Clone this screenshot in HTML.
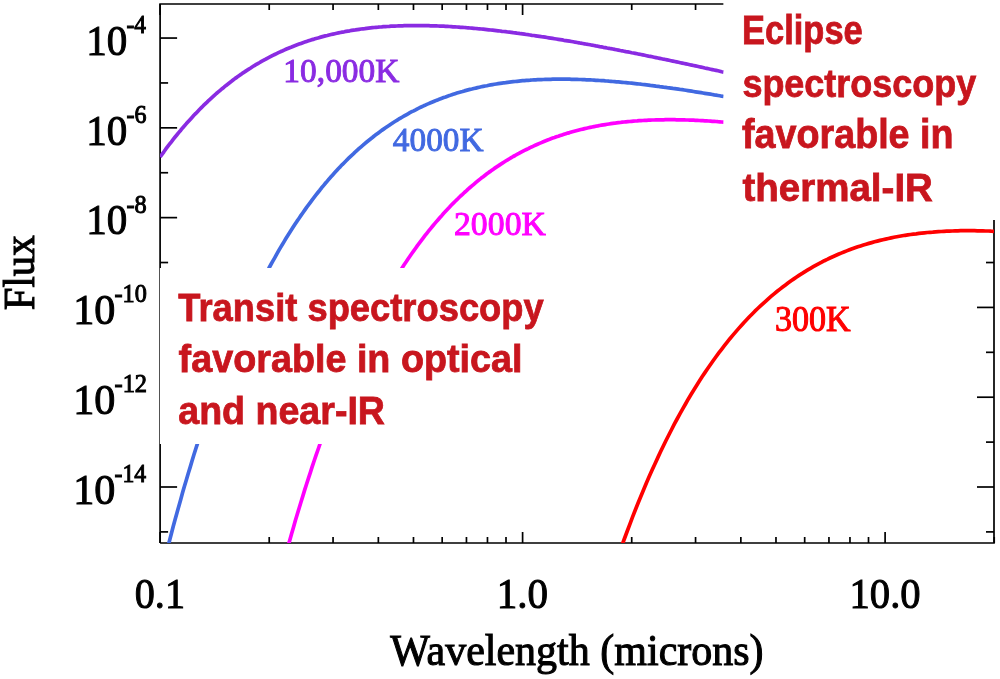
<!DOCTYPE html>
<html><head><meta charset="utf-8"><style>
html,body{margin:0;padding:0;background:#fff;}
body{width:1000px;height:679px;overflow:hidden;}
svg{display:block;}
</style></head><body>
<svg width="1000" height="679" viewBox="0 0 1000 679">
<rect width="1000" height="679" fill="#fff"/>
<defs><clipPath id="pc"><rect x="160.1" y="4" width="833.9" height="539"/></clipPath></defs>
<g stroke="#000" stroke-width="1.7" fill="none"><path d="M160.1,543 V4 H723.6"/><path d="M160.1,543 H994 V220"/><path d="M160.10,543 v-11"/><path d="M160.10,4 v11"/><path d="M269.22,543 v-6"/><path d="M269.22,4 v6"/><path d="M333.06,543 v-6"/><path d="M333.06,4 v6"/><path d="M378.35,543 v-6"/><path d="M378.35,4 v6"/><path d="M413.48,543 v-6"/><path d="M413.48,4 v6"/><path d="M442.18,543 v-6"/><path d="M442.18,4 v6"/><path d="M466.45,543 v-6"/><path d="M466.45,4 v6"/><path d="M487.47,543 v-6"/><path d="M487.47,4 v6"/><path d="M506.01,543 v-6"/><path d="M506.01,4 v6"/><path d="M522.60,543 v-11"/><path d="M522.60,4 v11"/><path d="M631.72,543 v-6"/><path d="M631.72,4 v6"/><path d="M695.56,543 v-6"/><path d="M695.56,4 v6"/><path d="M740.85,543 v-6"/><path d="M775.98,543 v-6"/><path d="M804.68,543 v-6"/><path d="M828.95,543 v-6"/><path d="M849.97,543 v-6"/><path d="M868.51,543 v-6"/><path d="M885.10,543 v-11"/><path d="M994.22,543 v-6"/><path d="M160.1,531.89 h8"/><path d="M994,531.89 h-8"/><path d="M160.1,487.00 h17"/><path d="M994,487.00 h-17"/><path d="M994,442.11 h-8"/><path d="M994,397.21 h-17"/><path d="M994,352.32 h-8"/><path d="M994,307.42 h-17"/><path d="M160.1,262.53 h8"/><path d="M994,262.53 h-8"/><path d="M160.1,217.63 h17"/><path d="M160.1,172.74 h8"/><path d="M160.1,127.84 h17"/><path d="M160.1,82.94 h8"/><path d="M160.1,38.05 h17"/></g>
<g clip-path="url(#pc)" fill="none" stroke-width="3.7" stroke-linejoin="round">
<path d="M160.1,157.0 L162.0,154.4 L163.9,151.8 L165.7,149.2 L167.6,146.7 L169.5,144.2 L171.4,141.8 L173.2,139.4 L175.1,137.0 L177.0,134.7 L178.9,132.4 L180.8,130.2 L182.6,127.9 L184.5,125.8 L186.4,123.6 L188.3,121.5 L190.2,119.4 L192.0,117.4 L193.9,115.3 L195.8,113.4 L197.7,111.4 L199.5,109.5 L201.4,107.6 L203.3,105.7 L205.2,103.9 L207.1,102.1 L208.9,100.3 L210.8,98.6 L212.7,96.9 L214.6,95.2 L216.4,93.5 L218.3,91.9 L220.2,90.3 L222.1,88.7 L224.0,87.2 L225.8,85.7 L227.7,84.2 L229.6,82.7 L231.5,81.3 L233.4,79.8 L235.2,78.4 L237.1,77.1 L239.0,75.7 L240.9,74.4 L242.7,73.1 L244.6,71.9 L246.5,70.6 L248.4,69.4 L250.3,68.2 L252.1,67.0 L254.0,65.8 L255.9,64.7 L257.8,63.6 L259.7,62.5 L261.5,61.4 L263.4,60.4 L265.3,59.4 L267.2,58.3 L269.0,57.4 L270.9,56.4 L272.8,55.4 L274.7,54.5 L276.6,53.6 L278.4,52.7 L280.3,51.8 L282.2,51.0 L284.1,50.1 L285.9,49.3 L287.8,48.5 L289.7,47.7 L291.6,47.0 L293.5,46.2 L295.3,45.5 L297.2,44.8 L299.1,44.1 L301.0,43.4 L302.9,42.7 L304.7,42.1 L306.6,41.4 L308.5,40.8 L310.4,40.2 L312.2,39.6 L314.1,39.1 L316.0,38.5 L317.9,38.0 L319.8,37.4 L321.6,36.9 L323.5,36.4 L325.4,35.9 L327.3,35.5 L329.1,35.0 L331.0,34.5 L332.9,34.1 L334.8,33.7 L336.7,33.3 L338.5,32.9 L340.4,32.5 L342.3,32.1 L344.2,31.8 L346.1,31.4 L347.9,31.1 L349.8,30.8 L351.7,30.4 L353.6,30.1 L355.4,29.9 L357.3,29.6 L359.2,29.3 L361.1,29.0 L363.0,28.8 L364.8,28.6 L366.7,28.3 L368.6,28.1 L370.5,27.9 L372.4,27.7 L374.2,27.5 L376.1,27.3 L378.0,27.2 L379.9,27.0 L381.7,26.9 L383.6,26.7 L385.5,26.6 L387.4,26.5 L389.3,26.4 L391.1,26.2 L393.0,26.1 L394.9,26.1 L396.8,26.0 L398.6,25.9 L400.5,25.8 L402.4,25.8 L404.3,25.7 L406.2,25.7 L408.0,25.6 L409.9,25.6 L411.8,25.6 L413.7,25.6 L415.6,25.6 L417.4,25.6 L419.3,25.6 L421.2,25.6 L423.1,25.6 L424.9,25.6 L426.8,25.7 L428.7,25.7 L430.6,25.8 L432.5,25.8 L434.3,25.9 L436.2,25.9 L438.1,26.0 L440.0,26.1 L441.9,26.2 L443.7,26.2 L445.6,26.3 L447.5,26.4 L449.4,26.5 L451.2,26.6 L453.1,26.8 L455.0,26.9 L456.9,27.0 L458.8,27.1 L460.6,27.3 L462.5,27.4 L464.4,27.5 L466.3,27.7 L468.1,27.8 L470.0,28.0 L471.9,28.1 L473.8,28.3 L475.7,28.5 L477.5,28.7 L479.4,28.8 L481.3,29.0 L483.2,29.2 L485.1,29.4 L486.9,29.6 L488.8,29.8 L490.7,30.0 L492.6,30.2 L494.4,30.4 L496.3,30.6 L498.2,30.8 L500.1,31.0 L502.0,31.3 L503.8,31.5 L505.7,31.7 L507.6,32.0 L509.5,32.2 L511.3,32.4 L513.2,32.7 L515.1,32.9 L517.0,33.2 L518.9,33.4 L520.7,33.7 L522.6,33.9 L524.5,34.2 L526.4,34.5 L528.3,34.7 L530.1,35.0 L532.0,35.3 L533.9,35.5 L535.8,35.8 L537.6,36.1 L539.5,36.4 L541.4,36.7 L543.3,36.9 L545.2,37.2 L547.0,37.5 L548.9,37.8 L550.8,38.1 L552.7,38.4 L554.5,38.7 L556.4,39.0 L558.3,39.3 L560.2,39.6 L562.1,39.9 L563.9,40.3 L565.8,40.6 L567.7,40.9 L569.6,41.2 L571.5,41.5 L573.3,41.8 L575.2,42.2 L577.1,42.5 L579.0,42.8 L580.8,43.2 L582.7,43.5 L584.6,43.8 L586.5,44.2 L588.4,44.5 L590.2,44.8 L592.1,45.2 L594.0,45.5 L595.9,45.9 L597.8,46.2 L599.6,46.6 L601.5,46.9 L603.4,47.3 L605.3,47.6 L607.1,48.0 L609.0,48.3 L610.9,48.7 L612.8,49.0 L614.7,49.4 L616.5,49.7 L618.4,50.1 L620.3,50.5 L622.2,50.8 L624.0,51.2 L625.9,51.6 L627.8,51.9 L629.7,52.3 L631.6,52.7 L633.4,53.0 L635.3,53.4 L637.2,53.8 L639.1,54.2 L641.0,54.5 L642.8,54.9 L644.7,55.3 L646.6,55.7 L648.5,56.1 L650.3,56.4 L652.2,56.8 L654.1,57.2 L656.0,57.6 L657.9,58.0 L659.7,58.4 L661.6,58.8 L663.5,59.2 L665.4,59.5 L667.2,59.9 L669.1,60.3 L671.0,60.7 L672.9,61.1 L674.8,61.5 L676.6,61.9 L678.5,62.3 L680.4,62.7 L682.3,63.1 L684.2,63.5 L686.0,63.9 L687.9,64.3 L689.8,64.7 L691.7,65.1 L693.5,65.5 L695.4,65.9 L697.3,66.3 L699.2,66.7 L701.1,67.1 L702.9,67.5 L704.8,68.0 L706.7,68.4 L708.6,68.8 L710.5,69.2 L712.3,69.6 L714.2,70.0 L716.1,70.4 L718.0,70.8 L719.8,71.2 L721.7,71.7 L723.6,72.1" stroke="#8a2be2"/>
<path d="M167.6,547.9 L169.5,540.7 L171.4,533.5 L173.2,526.5 L175.1,519.5 L177.0,512.7 L178.9,505.9 L180.8,499.2 L182.6,492.6 L184.5,486.1 L186.4,479.7 L188.3,473.3 L190.2,467.1 L192.0,460.9 L193.9,454.8 L195.8,448.8 L197.7,442.9 L199.5,437.0 L201.4,431.2 L203.3,425.5 L205.2,419.9 L207.1,414.4 L208.9,408.9 L210.8,403.5 L212.7,398.2 L214.6,392.9 L216.4,387.7 L218.3,382.6 L220.2,377.5 L222.1,372.6 L224.0,367.7 L225.8,362.8 L227.7,358.0 L229.6,353.3 L231.5,348.7 L233.4,344.1 L235.2,339.5 L237.1,335.1 L239.0,330.7 L240.9,326.3 L242.7,322.1 L244.6,317.8 L246.5,313.7 L248.4,309.6 L250.3,305.5 L252.1,301.5 L254.0,297.6 L255.9,293.7 L257.8,289.9 L259.7,286.1 L261.5,282.4 L263.4,278.7 L265.3,275.1 L267.2,271.5 L269.0,268.0 L270.9,264.5 L272.8,261.1 L274.7,257.8 L276.6,254.4 L278.4,251.2 L280.3,247.9 L282.2,244.8 L284.1,241.6 L285.9,238.5 L287.8,235.5 L289.7,232.5 L291.6,229.6 L293.5,226.6 L295.3,223.8 L297.2,220.9 L299.1,218.2 L301.0,215.4 L302.9,212.7 L304.7,210.1 L306.6,207.4 L308.5,204.9 L310.4,202.3 L312.2,199.8 L314.1,197.3 L316.0,194.9 L317.9,192.5 L319.8,190.2 L321.6,187.8 L323.5,185.6 L325.4,183.3 L327.3,181.1 L329.1,178.9 L331.0,176.8 L332.9,174.7 L334.8,172.6 L336.7,170.5 L338.5,168.5 L340.4,166.6 L342.3,164.6 L344.2,162.7 L346.1,160.8 L347.9,158.9 L349.8,157.1 L351.7,155.3 L353.6,153.6 L355.4,151.8 L357.3,150.1 L359.2,148.4 L361.1,146.8 L363.0,145.2 L364.8,143.6 L366.7,142.0 L368.6,140.5 L370.5,139.0 L372.4,137.5 L374.2,136.0 L376.1,134.6 L378.0,133.2 L379.9,131.8 L381.7,130.4 L383.6,129.1 L385.5,127.8 L387.4,126.5 L389.3,125.2 L391.1,124.0 L393.0,122.7 L394.9,121.5 L396.8,120.4 L398.6,119.2 L400.5,118.1 L402.4,117.0 L404.3,115.9 L406.2,114.8 L408.0,113.8 L409.9,112.7 L411.8,111.7 L413.7,110.8 L415.6,109.8 L417.4,108.8 L419.3,107.9 L421.2,107.0 L423.1,106.1 L424.9,105.3 L426.8,104.4 L428.7,103.6 L430.6,102.8 L432.5,102.0 L434.3,101.2 L436.2,100.4 L438.1,99.7 L440.0,98.9 L441.9,98.2 L443.7,97.5 L445.6,96.9 L447.5,96.2 L449.4,95.6 L451.2,94.9 L453.1,94.3 L455.0,93.7 L456.9,93.1 L458.8,92.5 L460.6,92.0 L462.5,91.5 L464.4,90.9 L466.3,90.4 L468.1,89.9 L470.0,89.4 L471.9,89.0 L473.8,88.5 L475.7,88.1 L477.5,87.6 L479.4,87.2 L481.3,86.8 L483.2,86.4 L485.1,86.0 L486.9,85.7 L488.8,85.3 L490.7,84.9 L492.6,84.6 L494.4,84.3 L496.3,84.0 L498.2,83.7 L500.1,83.4 L502.0,83.1 L503.8,82.8 L505.7,82.6 L507.6,82.3 L509.5,82.1 L511.3,81.9 L513.2,81.7 L515.1,81.5 L517.0,81.3 L518.9,81.1 L520.7,80.9 L522.6,80.7 L524.5,80.6 L526.4,80.4 L528.3,80.3 L530.1,80.2 L532.0,80.0 L533.9,79.9 L535.8,79.8 L537.6,79.7 L539.5,79.6 L541.4,79.6 L543.3,79.5 L545.2,79.4 L547.0,79.4 L548.9,79.3 L550.8,79.3 L552.7,79.2 L554.5,79.2 L556.4,79.2 L558.3,79.2 L560.2,79.2 L562.1,79.2 L563.9,79.2 L565.8,79.2 L567.7,79.2 L569.6,79.2 L571.5,79.3 L573.3,79.3 L575.2,79.4 L577.1,79.4 L579.0,79.5 L580.8,79.5 L582.7,79.6 L584.6,79.7 L586.5,79.8 L588.4,79.9 L590.2,79.9 L592.1,80.0 L594.0,80.1 L595.9,80.3 L597.8,80.4 L599.6,80.5 L601.5,80.6 L603.4,80.7 L605.3,80.9 L607.1,81.0 L609.0,81.2 L610.9,81.3 L612.8,81.5 L614.7,81.6 L616.5,81.8 L618.4,81.9 L620.3,82.1 L622.2,82.3 L624.0,82.5 L625.9,82.6 L627.8,82.8 L629.7,83.0 L631.6,83.2 L633.4,83.4 L635.3,83.6 L637.2,83.8 L639.1,84.0 L641.0,84.2 L642.8,84.5 L644.7,84.7 L646.6,84.9 L648.5,85.1 L650.3,85.4 L652.2,85.6 L654.1,85.8 L656.0,86.1 L657.9,86.3 L659.7,86.6 L661.6,86.8 L663.5,87.1 L665.4,87.3 L667.2,87.6 L669.1,87.8 L671.0,88.1 L672.9,88.4 L674.8,88.6 L676.6,88.9 L678.5,89.2 L680.4,89.5 L682.3,89.7 L684.2,90.0 L686.0,90.3 L687.9,90.6 L689.8,90.9 L691.7,91.2 L693.5,91.5 L695.4,91.8 L697.3,92.1 L699.2,92.4 L701.1,92.7 L702.9,93.0 L704.8,93.3 L706.7,93.6 L708.6,93.9 L710.5,94.2 L712.3,94.5 L714.2,94.9 L716.1,95.2 L718.0,95.5 L719.8,95.8 L721.7,96.2 L723.6,96.5" stroke="#4169e1"/>
<path d="M287.8,547.1 L289.7,540.4 L291.6,533.8 L293.5,527.3 L295.3,520.8 L297.2,514.5 L299.1,508.2 L301.0,502.0 L302.9,495.9 L304.7,489.9 L306.6,484.0 L308.5,478.1 L310.4,472.3 L312.2,466.6 L314.1,461.0 L316.0,455.4 L317.9,450.0 L319.8,444.5 L321.6,439.2 L323.5,433.9 L325.4,428.7 L327.3,423.6 L329.1,418.6 L331.0,413.6 L332.9,408.7 L334.8,403.8 L336.7,399.0 L338.5,394.3 L340.4,389.6 L342.3,385.1 L344.2,380.5 L346.1,376.1 L347.9,371.6 L349.8,367.3 L351.7,363.0 L353.6,358.8 L355.4,354.6 L357.3,350.5 L359.2,346.4 L361.1,342.4 L363.0,338.5 L364.8,334.6 L366.7,330.8 L368.6,327.0 L370.5,323.3 L372.4,319.6 L374.2,316.0 L376.1,312.4 L378.0,308.9 L379.9,305.4 L381.7,302.0 L383.6,298.6 L385.5,295.3 L387.4,292.0 L389.3,288.8 L391.1,285.6 L393.0,282.5 L394.9,279.4 L396.8,276.3 L398.6,273.3 L400.5,270.4 L402.4,267.5 L404.3,264.6 L406.2,261.8 L408.0,259.0 L409.9,256.2 L411.8,253.5 L413.7,250.9 L415.6,248.2 L417.4,245.6 L419.3,243.1 L421.2,240.6 L423.1,238.1 L424.9,235.7 L426.8,233.3 L428.7,230.9 L430.6,228.6 L432.5,226.3 L434.3,224.1 L436.2,221.9 L438.1,219.7 L440.0,217.5 L441.9,215.4 L443.7,213.3 L445.6,211.3 L447.5,209.3 L449.4,207.3 L451.2,205.3 L453.1,203.4 L455.0,201.5 L456.9,199.7 L458.8,197.8 L460.6,196.0 L462.5,194.3 L464.4,192.5 L466.3,190.8 L468.1,189.1 L470.0,187.5 L471.9,185.9 L473.8,184.3 L475.7,182.7 L477.5,181.2 L479.4,179.6 L481.3,178.1 L483.2,176.7 L485.1,175.2 L486.9,173.8 L488.8,172.4 L490.7,171.1 L492.6,169.7 L494.4,168.4 L496.3,167.1 L498.2,165.9 L500.1,164.6 L502.0,163.4 L503.8,162.2 L505.7,161.0 L507.6,159.9 L509.5,158.7 L511.3,157.6 L513.2,156.5 L515.1,155.5 L517.0,154.4 L518.9,153.4 L520.7,152.4 L522.6,151.4 L524.5,150.4 L526.4,149.5 L528.3,148.6 L530.1,147.6 L532.0,146.8 L533.9,145.9 L535.8,145.0 L537.6,144.2 L539.5,143.4 L541.4,142.6 L543.3,141.8 L545.2,141.0 L547.0,140.3 L548.9,139.6 L550.8,138.8 L552.7,138.1 L554.5,137.5 L556.4,136.8 L558.3,136.2 L560.2,135.5 L562.1,134.9 L563.9,134.3 L565.8,133.7 L567.7,133.1 L569.6,132.6 L571.5,132.0 L573.3,131.5 L575.2,131.0 L577.1,130.5 L579.0,130.0 L580.8,129.5 L582.7,129.1 L584.6,128.6 L586.5,128.2 L588.4,127.8 L590.2,127.4 L592.1,127.0 L594.0,126.6 L595.9,126.2 L597.8,125.9 L599.6,125.5 L601.5,125.2 L603.4,124.9 L605.3,124.6 L607.1,124.3 L609.0,124.0 L610.9,123.7 L612.8,123.4 L614.7,123.2 L616.5,122.9 L618.4,122.7 L620.3,122.5 L622.2,122.2 L624.0,122.0 L625.9,121.8 L627.8,121.6 L629.7,121.5 L631.6,121.3 L633.4,121.1 L635.3,121.0 L637.2,120.9 L639.1,120.7 L641.0,120.6 L642.8,120.5 L644.7,120.4 L646.6,120.3 L648.5,120.2 L650.3,120.1 L652.2,120.0 L654.1,120.0 L656.0,119.9 L657.9,119.9 L659.7,119.8 L661.6,119.8 L663.5,119.8 L665.4,119.7 L667.2,119.7 L669.1,119.7 L671.0,119.7 L672.9,119.7 L674.8,119.7 L676.6,119.8 L678.5,119.8 L680.4,119.8 L682.3,119.9 L684.2,119.9 L686.0,120.0 L687.9,120.0 L689.8,120.1 L691.7,120.1 L693.5,120.2 L695.4,120.3 L697.3,120.4 L699.2,120.5 L701.1,120.6 L702.9,120.7 L704.8,120.8 L706.7,120.9 L708.6,121.0 L710.5,121.1 L712.3,121.3 L714.2,121.4 L716.1,121.5 L718.0,121.7 L719.8,121.8 L721.7,122.0 L723.6,122.1" stroke="#ff00ff"/>
<path d="M621.5,546.7 L624.3,539.0 L627.1,531.5 L629.9,524.1 L632.6,516.9 L635.4,509.8 L638.2,502.8 L641.0,496.0 L643.8,489.3 L646.5,482.7 L649.3,476.3 L652.1,470.0 L654.9,463.9 L657.7,457.9 L660.4,452.0 L663.2,446.2 L666.0,440.5 L668.8,435.0 L671.6,429.5 L674.3,424.2 L677.1,419.0 L679.9,413.9 L682.7,408.9 L685.5,404.0 L688.2,399.2 L691.0,394.5 L693.8,390.0 L696.6,385.5 L699.4,381.1 L702.1,376.8 L704.9,372.6 L707.7,368.5 L710.5,364.5 L713.3,360.5 L716.0,356.7 L718.8,352.9 L721.6,349.3 L724.4,345.7 L727.2,342.2 L729.9,338.7 L732.7,335.4 L735.5,332.1 L738.3,328.9 L741.1,325.8 L743.8,322.7 L746.6,319.8 L749.4,316.8 L752.2,314.0 L754.9,311.2 L757.7,308.5 L760.5,305.9 L763.3,303.3 L766.1,300.8 L768.8,298.3 L771.6,295.9 L774.4,293.6 L777.2,291.3 L780.0,289.1 L782.7,287.0 L785.5,284.9 L788.3,282.8 L791.1,280.8 L793.9,278.9 L796.6,277.0 L799.4,275.1 L802.2,273.4 L805.0,271.6 L807.8,269.9 L810.5,268.3 L813.3,266.7 L816.1,265.1 L818.9,263.6 L821.7,262.2 L824.4,260.7 L827.2,259.4 L830.0,258.0 L832.8,256.7 L835.6,255.5 L838.3,254.3 L841.1,253.1 L843.9,252.0 L846.7,250.9 L849.5,249.8 L852.2,248.8 L855.0,247.8 L857.8,246.8 L860.6,245.9 L863.4,245.0 L866.1,244.2 L868.9,243.4 L871.7,242.6 L874.5,241.8 L877.3,241.1 L880.0,240.4 L882.8,239.7 L885.6,239.1 L888.4,238.5 L891.2,237.9 L893.9,237.3 L896.7,236.8 L899.5,236.3 L902.3,235.8 L905.1,235.3 L907.8,234.9 L910.6,234.5 L913.4,234.1 L916.2,233.8 L918.9,233.4 L921.7,233.1 L924.5,232.8 L927.3,232.5 L930.1,232.3 L932.8,232.1 L935.6,231.8 L938.4,231.6 L941.2,231.5 L944.0,231.3 L946.7,231.2 L949.5,231.1 L952.3,231.0 L955.1,230.9 L957.9,230.8 L960.6,230.7 L963.4,230.7 L966.2,230.7 L969.0,230.7 L971.8,230.7 L974.5,230.7 L977.3,230.8 L980.1,230.8 L982.9,230.9 L985.7,231.0 L988.4,231.0 L991.2,231.2 L994.0,231.3" stroke="#ff0000"/>
</g>
<rect x="723.6" y="0" width="276.4" height="220" fill="#fff"/>
<rect x="159.9" y="268" width="470" height="176" fill="#fff"/>
<text transform="translate(742.03,43.60) scale(0.3447,0.3973)" style="font-family:'Liberation Sans',sans-serif;font-size:100px;font-weight:bold;" fill="#c8161e" stroke="#c8161e" stroke-width="2.0">Eclipse</text>
<text transform="translate(742.38,96.90) scale(0.3598,0.3973)" style="font-family:'Liberation Sans',sans-serif;font-size:100px;font-weight:bold;" fill="#c8161e" stroke="#c8161e" stroke-width="2.0">spectroscopy</text>
<text transform="translate(742.02,147.60) scale(0.3769,0.3973)" style="font-family:'Liberation Sans',sans-serif;font-size:100px;font-weight:bold;" fill="#c8161e" stroke="#c8161e" stroke-width="2.0">favorable in</text>
<text transform="translate(742.40,200.60) scale(0.3854,0.3973)" style="font-family:'Liberation Sans',sans-serif;font-size:100px;font-weight:bold;" fill="#c8161e" stroke="#c8161e" stroke-width="2.0">thermal-IR</text>
<text transform="translate(178.20,320.50) scale(0.3635,0.3892)" style="font-family:'Liberation Sans',sans-serif;font-size:100px;font-weight:bold;" fill="#c8161e" stroke="#c8161e" stroke-width="2.0">Transit spectroscopy</text>
<text transform="translate(178.62,372.40) scale(0.3774,0.3892)" style="font-family:'Liberation Sans',sans-serif;font-size:100px;font-weight:bold;" fill="#c8161e" stroke="#c8161e" stroke-width="2.0">favorable in optical</text>
<text transform="translate(178.25,423.90) scale(0.3759,0.3892)" style="font-family:'Liberation Sans',sans-serif;font-size:100px;font-weight:bold;" fill="#c8161e" stroke="#c8161e" stroke-width="2.0">and near-IR</text>
<text transform="translate(86.22,54.80) scale(0.4101,0.4157)" style="font-family:'Liberation Serif',serif;font-size:100px;" fill="#000" stroke="#000" stroke-width="2.4">10</text>
<text transform="translate(126.53,33.04) scale(0.2341,0.2535)" style="font-family:'Liberation Serif',serif;font-size:100px;" fill="#000" stroke="#000" stroke-width="3.96">-4</text>
<text transform="translate(86.22,144.59) scale(0.4101,0.4157)" style="font-family:'Liberation Serif',serif;font-size:100px;" fill="#000" stroke="#000" stroke-width="2.4">10</text>
<text transform="translate(126.52,122.83) scale(0.2400,0.2535)" style="font-family:'Liberation Serif',serif;font-size:100px;" fill="#000" stroke="#000" stroke-width="3.96">-6</text>
<text transform="translate(86.22,234.38) scale(0.4101,0.4157)" style="font-family:'Liberation Serif',serif;font-size:100px;" fill="#000" stroke="#000" stroke-width="2.4">10</text>
<text transform="translate(126.51,212.62) scale(0.2430,0.2535)" style="font-family:'Liberation Serif',serif;font-size:100px;" fill="#000" stroke="#000" stroke-width="3.96">-8</text>
<text transform="translate(73.13,324.17) scale(0.4213,0.4157)" style="font-family:'Liberation Serif',serif;font-size:100px;" fill="#000" stroke="#000" stroke-width="2.4">10</text>
<text transform="translate(114.51,302.41) scale(0.2426,0.2535)" style="font-family:'Liberation Serif',serif;font-size:100px;" fill="#000" stroke="#000" stroke-width="3.96">-10</text>
<text transform="translate(73.13,413.96) scale(0.4213,0.4157)" style="font-family:'Liberation Serif',serif;font-size:100px;" fill="#000" stroke="#000" stroke-width="2.4">10</text>
<text transform="translate(114.51,392.20) scale(0.2445,0.2535)" style="font-family:'Liberation Serif',serif;font-size:100px;" fill="#000" stroke="#000" stroke-width="3.96">-12</text>
<text transform="translate(73.13,503.75) scale(0.4213,0.4157)" style="font-family:'Liberation Serif',serif;font-size:100px;" fill="#000" stroke="#000" stroke-width="2.4">10</text>
<text transform="translate(114.53,481.99) scale(0.2371,0.2535)" style="font-family:'Liberation Serif',serif;font-size:100px;" fill="#000" stroke="#000" stroke-width="3.96">-14</text>
<text transform="translate(134.79,607.74) scale(0.4017,0.4214)" style="font-family:'Liberation Serif',serif;font-size:100px;" fill="#000" stroke="#000" stroke-width="2.4">0.1</text>
<text transform="translate(496.72,607.74) scale(0.4105,0.4214)" style="font-family:'Liberation Serif',serif;font-size:100px;" fill="#000" stroke="#000" stroke-width="2.4">1.0</text>
<text transform="translate(849.55,607.74) scale(0.4061,0.4214)" style="font-family:'Liberation Serif',serif;font-size:100px;" fill="#000" stroke="#000" stroke-width="2.4">10.0</text>
<text transform="translate(390.22,665.20) scale(0.4203,0.4424)" style="font-family:'Liberation Serif',serif;font-size:100px;" fill="#000" stroke="#000" stroke-width="2.4">Wavelength (microns)</text>
<text transform="translate(34.20,310.32) rotate(-90) scale(0.4088,0.4333)" style="font-family:'Liberation Serif',serif;font-size:100px;" fill="#000" stroke="#000" stroke-width="2.4">Flux</text>
<text transform="translate(283.36,82.00) scale(0.3343,0.3329)" style="font-family:'Liberation Serif',serif;font-size:100px;" fill="#8a2be2" stroke="#8a2be2" stroke-width="2.88">10,000K</text>
<text transform="translate(392.87,150.77) scale(0.3331,0.3429)" style="font-family:'Liberation Serif',serif;font-size:100px;" fill="#4169e1" stroke="#4169e1" stroke-width="2.88">4000K</text>
<text transform="translate(453.99,234.97) scale(0.3378,0.3429)" style="font-family:'Liberation Serif',serif;font-size:100px;" fill="#ff00ff" stroke="#ff00ff" stroke-width="2.88">2000K</text>
<text transform="translate(774.98,330.95) scale(0.3409,0.3500)" style="font-family:'Liberation Serif',serif;font-size:100px;" fill="#ff0000" stroke="#ff0000" stroke-width="2.88">300K</text>
</svg>
</body></html>
